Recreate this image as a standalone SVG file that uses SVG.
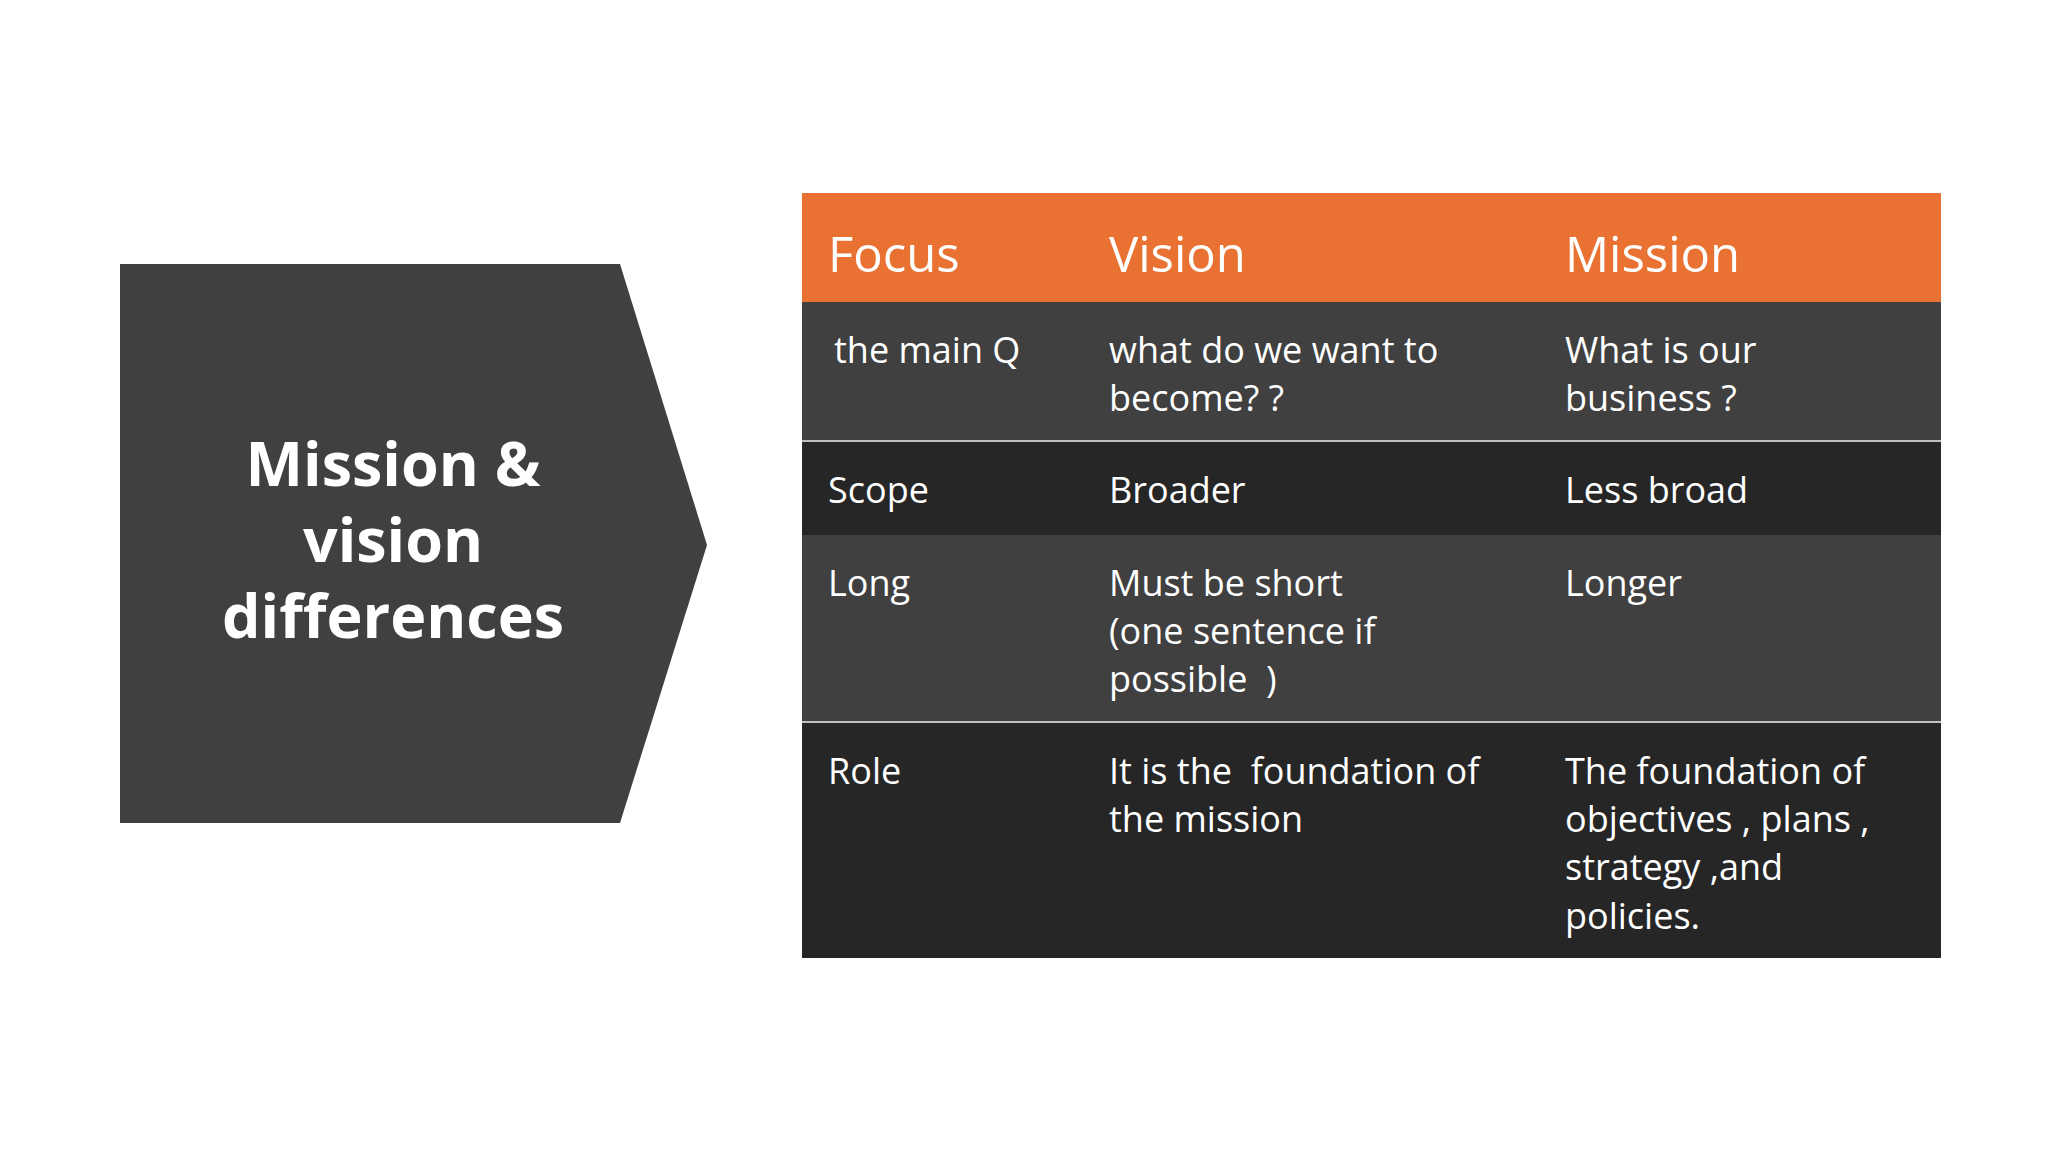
<svg xmlns="http://www.w3.org/2000/svg" width="2048" height="1152" viewBox="0 0 2048 1152">
<style>
text{font-family:"Open Sans","Noto Sans",sans-serif;fill:#fff}
.h{font-size:49px}
.b{font-size:36px}
.t{font-size:61px;font-weight:bold;text-anchor:middle}
</style>
<rect width="2048" height="1152" fill="#fff"/>
<g id="title">
<polygon points="120,264 620,264 707,545 620,823 120,823" fill="#404040"/>
<text class="t" x="393" y="486">Mission &amp;</text>
<text class="t" x="393" y="562">vision</text>
<text class="t" x="393" y="638">differences</text>
</g>
<g id="table">
<rect x="802" y="193" width="1139" height="109" fill="#E97132"/>
<rect x="802" y="302" width="1139" height="139" fill="#404040"/>
<rect x="802" y="441" width="1139" height="94" fill="#262626"/>
<rect x="802" y="535" width="1139" height="187" fill="#404040"/>
<rect x="802" y="722" width="1139" height="236" fill="#262626"/>
<line x1="802" y1="441" x2="1941" y2="441" stroke="#bfbfbf" stroke-width="2"/>
<line x1="802" y1="722" x2="1941" y2="722" stroke="#bfbfbf" stroke-width="2"/>
<text class="h" x="828" y="272">Focus</text>
<text class="h" x="1109" y="272">Vision</text>
<text class="h" x="1565" y="272">Mission</text>
<text class="b" x="834" y="363">the main Q</text>
<text class="b" x="1109" y="363">what do we want to</text>
<text class="b" x="1109" y="411">become? ?</text>
<text class="b" x="1565" y="363">What is our</text>
<text class="b" x="1565" y="411">business ?</text>
<text class="b" x="828" y="503">Scope</text>
<text class="b" x="1109" y="503">Broader</text>
<text class="b" x="1565" y="503">Less broad</text>
<text class="b" x="828" y="596">Long</text>
<text class="b" x="1109" y="596">Must be short</text>
<text class="b" x="1109" y="644">(one sentence if</text>
<text class="b" x="1109" y="692" xml:space="preserve">possible  )</text>
<text class="b" x="1565" y="596">Longer</text>
<text class="b" x="828" y="784">Role</text>
<text class="b" x="1109" y="784" xml:space="preserve">It is the  foundation of</text>
<text class="b" x="1109" y="832">the mission</text>
<text class="b" x="1565" y="784">The foundation of</text>
<text class="b" x="1565" y="832">objectives , plans ,</text>
<text class="b" x="1565" y="880">strategy ,and</text>
<text class="b" x="1565" y="929">policies.</text>
</g>
</svg>
